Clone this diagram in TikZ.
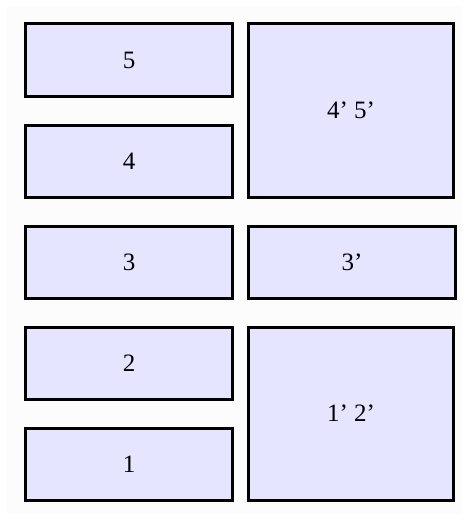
\documentclass[tikz,border=0pt]{standalone}
\usepackage{fontspec}
\setmainfont{Liberation Serif}
\begin{document}
\begin{tikzpicture}[x=1pt,y=-1pt,
  blk/.style={draw=black, line width=3pt, fill=blue!10, font=\fontsize{25}{30}\selectfont}]
\useasboundingbox (0,0) rectangle (474,524);
\fill[black!1.2] (6,6) rectangle (462,514);
\node[blk, minimum width=207pt, minimum height=73pt] (n5) at (129,60.5) {5};
\node[blk, minimum width=207pt, minimum height=72pt] (n4) at (129,161) {4};
\node[blk, minimum width=207pt, minimum height=72pt] (n3) at (129,262) {3};
\node[blk, minimum width=207pt, minimum height=72pt] (n2) at (129,363) {2};
\node[blk, minimum width=207pt, minimum height=72pt] (n1) at (129,464) {1};
\node[blk, minimum width=205pt, minimum height=173pt] (r45) at (351,110.5) {4’ 5’};
\node[blk, minimum width=207pt, minimum height=72pt] (r3) at (352,262) {3’};
\node[blk, minimum width=205pt, minimum height=173pt] (r12) at (351,413.5) {1’ 2’};
\end{tikzpicture}
\end{document}
